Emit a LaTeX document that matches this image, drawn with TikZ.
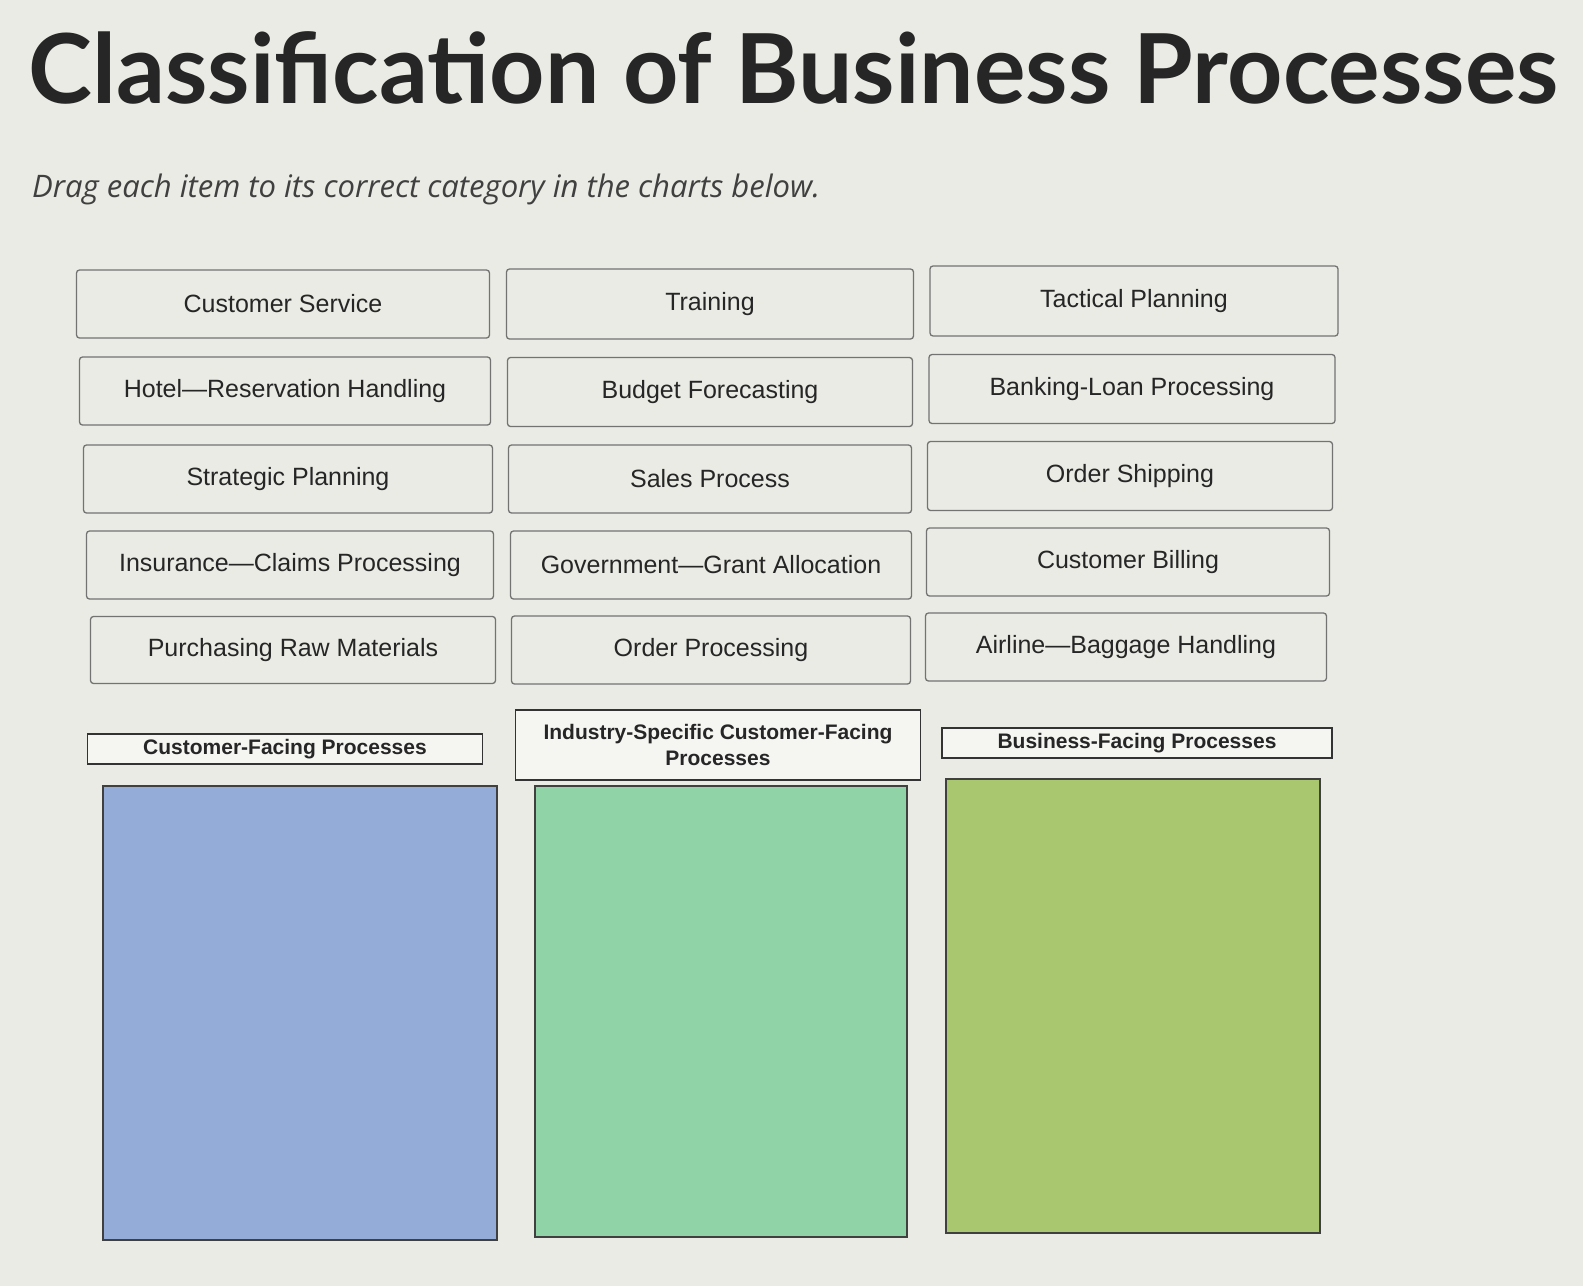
\documentclass[tikz,border=0pt]{standalone}
\usepackage{fontspec}
\setmainfont{Liberation Sans}
\newfontfamily\titlefont{Lato}
\newfontfamily\itemfont{Open Sans}
\definecolor{bg}{HTML}{EBEBE5}
\definecolor{cblue}{HTML}{93ACD8}
\definecolor{cgreen}{HTML}{8FD3A6}
\definecolor{clime}{HTML}{A8C76F}
\begin{document}
\begin{tikzpicture}[x=1pt,y=-1pt,
  item/.style={draw=black!55,line width=1.3pt,rounded corners=3pt,fill=bg,inner sep=0pt,font=\fontsize{25}{28}\selectfont,text=black!85},
  head/.style={draw=black!80,line width=1.3pt,fill=white!50!bg,inner sep=0pt,align=center,font=\bfseries\fontsize{21}{26}\selectfont,text=black!85},
  bin/.style={draw=black!75,line width=2pt,inner sep=0pt}]
\fill[bg] (0,0) rectangle (1583,1286);
\useasboundingbox (0,0) rectangle (1583,1286);
\node[anchor=base west,inner sep=0pt,text=black!85] (title) at (28,103) {\resizebox{1530pt}{!}{\titlefont\bfseries\fontsize{86}{90}\selectfont Classification of Business Processes}};
\node[anchor=base west,inner sep=0pt,text=black!75] (sub) at (32,197) {\resizebox{788pt}{!}{\itemfont\itshape\fontsize{28}{32}\selectfont Drag each item to its correct category in the charts below.}};
% column 1
\node[item,minimum width=413,minimum height=68] (a1) at (283,304) {Customer Service};
\node[item,minimum width=411,minimum height=68] (a2) at (285,391) {Hotel—Reservation Handling};
\node[item,minimum width=409,minimum height=68] (a3) at (288,479) {Strategic Planning};
\node[item,minimum width=407,minimum height=68] (a4) at (290,565) {Insurance—Claims Processing};
\node[item,minimum width=405,minimum height=67] (a5) at (293,650) {Purchasing Raw Materials};
% column 2
\node[item,minimum width=407,minimum height=70] (b1) at (710,304) {Training};
\node[item,minimum width=405,minimum height=69] (b2) at (710,392) {Budget Forecasting};
\node[item,minimum width=403,minimum height=68] (b3) at (710,479) {Sales Process};
\node[item,minimum width=401,minimum height=68] (b4) at (711,565) {Government—Grant Allocation};
\node[item,minimum width=399,minimum height=68] (b5) at (711,650) {Order Processing};
% column 3
\node[item,minimum width=408,minimum height=70] (c1) at (1134,301) {Tactical Planning};
\node[item,minimum width=406,minimum height=69] (c2) at (1132,389) {Banking-Loan Processing};
\node[item,minimum width=405,minimum height=69] (c3) at (1130,476) {Order Shipping};
\node[item,minimum width=403,minimum height=68] (c4) at (1128,562) {Customer Billing};
\node[item,minimum width=401,minimum height=68] (c5) at (1126,647) {Airline—Baggage Handling};
% headers
\node[head,minimum width=395,minimum height=30] (h1) at (285,749) {Customer-Facing Processes};
\node[head,minimum width=405,minimum height=70] (h2) at (718,745) {Industry-Specific Customer-Facing\\Processes};
\node[head,minimum width=390,minimum height=30] (h3) at (1137,743) {Business-Facing Processes};
% bins
\node[bin,fill=cblue,minimum width=394,minimum height=454] (k1) at (300,1013) {};
\node[bin,fill=cgreen,minimum width=372,minimum height=451] (k2) at (721,1011) {};
\node[bin,fill=clime,minimum width=374,minimum height=454] (k3) at (1133,1006) {};
\end{tikzpicture}
\end{document}
